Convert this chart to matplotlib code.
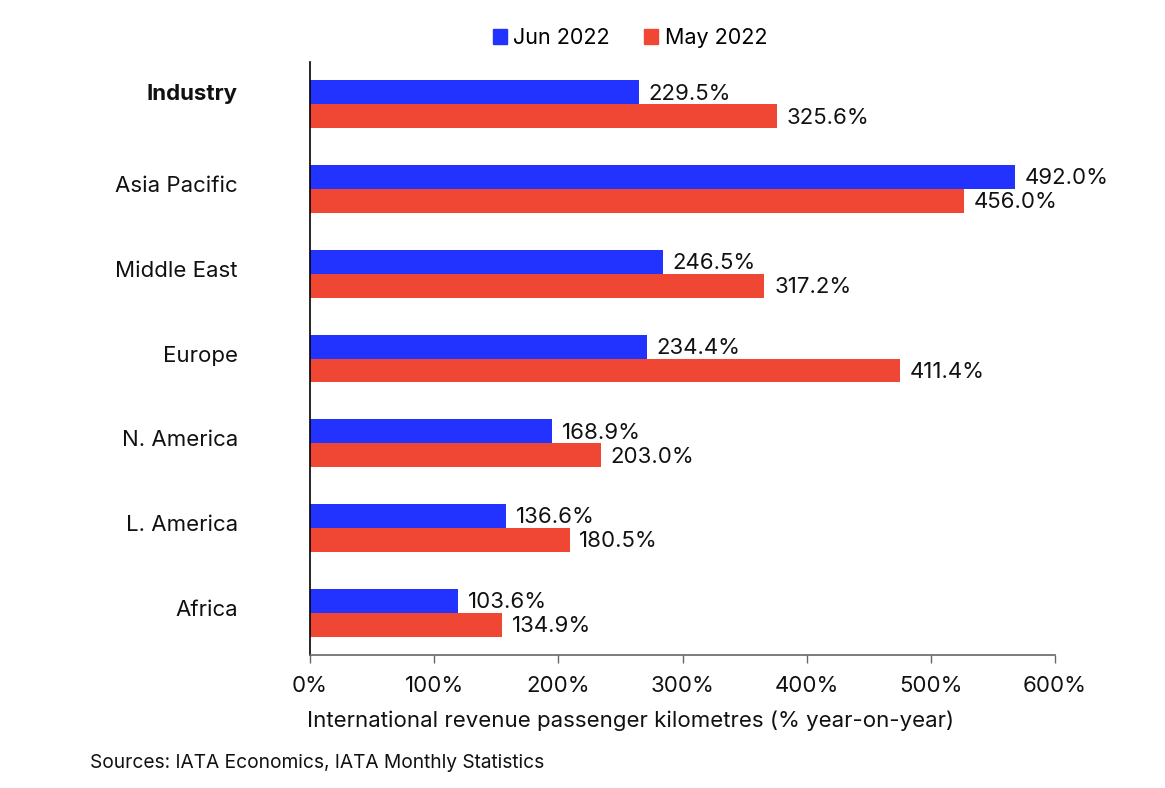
import matplotlib
matplotlib.use("Agg")
import matplotlib.pyplot as plt
import matplotlib.transforms as mtransforms
from matplotlib.patches import Patch

plt.rcParams['font.family'] = ['Inter', 'DejaVu Sans']

categories = ["Industry", "Asia Pacific", "Middle East", "Europe",
              "N. America", "L. America", "Africa"]
# bar lengths as read against the x axis
jun_bar = [265, 568, 284, 271, 195, 158, 119]
may_bar = [376, 527, 366, 475, 234, 209, 155]
# value labels as printed
jun_labels = ["229.5%", "492.0%", "246.5%", "234.4%", "168.9%", "136.6%", "103.6%"]
may_labels = ["325.6%", "456.0%", "317.2%", "411.4%", "203.0%", "180.5%", "134.9%"]
series_names = ["Jun 2022", "May 2022"]
x_ticks = [0, 100, 200, 300, 400, 500, 600]
x_tick_labels = ["0%", "100%", "200%", "300%", "400%", "500%", "600%"]

blue = "#2233ff"
red = "#f04735"
txt = "#111111"

fig = plt.figure(figsize=(11.65, 7.88), dpi=100)
ax = fig.add_axes([0.2661, 0.1688, 0.6395, 0.7525])

h = 0.283
ypos = list(range(len(categories)))
jun_y = [y - h / 2 for y in ypos]
may_y = [y + h / 2 for y in ypos]
ax.barh(jun_y, jun_bar, height=h, color=blue, label=series_names[0])
ax.barh(may_y, may_bar, height=h, color=red, label=series_names[1])

fs = 16
for y, v, t in zip(jun_y, jun_bar, jun_labels):
    ax.annotate(t, (v, y), xytext=(7, -1), textcoords="offset points",
                va="center", ha="left", fontsize=fs, color=txt)
for y, v, t in zip(may_y, may_bar, may_labels):
    ax.annotate(t, (v, y), xytext=(7, -1), textcoords="offset points",
                va="center", ha="left", fontsize=fs, color=txt)

ax.set_xlim(0, 600)
ax.set_ylim(6.5, -0.5)
ax.set_xticks(x_ticks)
ax.set_xticklabels(x_tick_labels, fontsize=16, color=txt)
ax.set_yticks(ypos)
ax.set_yticklabels(categories, fontsize=fs, color=txt)
ax.tick_params(axis="y", length=0, pad=52)
ax.tick_params(axis="x", length=6, width=1, color="#666666", pad=9)
for i, lab in enumerate(ax.get_yticklabels()):
    dy = 12 if i == 0 else 5
    off = mtransforms.ScaledTranslation(0, dy / 100, fig.dpi_scale_trans)
    lab.set_transform(lab.get_transform() + off)
ax.get_yticklabels()[0].set_fontweight("bold")

for s in ["top", "right"]:
    ax.spines[s].set_visible(False)
ax.spines["left"].set_color("#000000")
ax.spines["left"].set_linewidth(1.2)
ax.spines["bottom"].set_color("#666666")
ax.spines["bottom"].set_linewidth(1.2)

fig.text(307 / 1165, 1 - 721 / 788, "International revenue passenger kilometres (% year-on-year)",
         ha="left", va="center", fontsize=16, color=txt)
fig.text(90 / 1165, 1 - 763 / 788, "Sources: IATA Economics, IATA Monthly Statistics",
         ha="left", va="center", fontsize=13.8, color=txt)

handles = [Patch(color=blue), Patch(color=red)]
fig.legend(handles, series_names, loc="center", bbox_to_anchor=(630 / 1165, 1 - 38 / 788),
           ncol=2, frameon=False, fontsize=15.5, handlelength=0.65, handleheight=0.65,
           handletextpad=0.3, columnspacing=1.6)

fig.savefig("out.png", dpi=100)
